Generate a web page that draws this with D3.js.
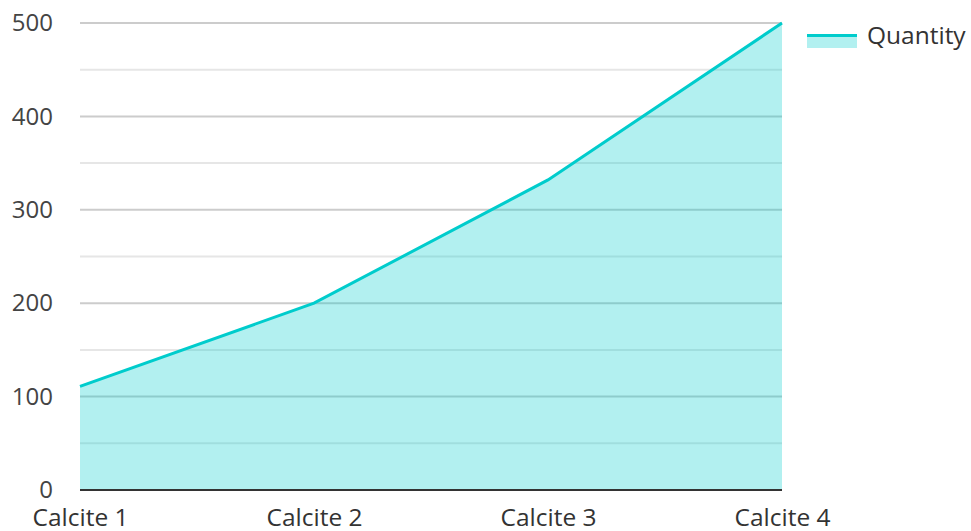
<!DOCTYPE html>
<html>
<head>
<meta charset="utf-8">
<script src="https://cdn.jsdelivr.net/npm/d3@7"></script>
<style>
  body { margin: 0; background: #fff; }
  text { font-family: "Open Sans", sans-serif; }
</style>
</head>
<body>
<svg></svg>
<script>

var categories = ["Calcite 1", "Calcite 2", "Calcite 3", "Calcite 4"];
var quantity = [111, 200, 332, 500];
var yTicks = [0, 100, 200, 300, 400, 500];
var seriesName = "Quantity";

var width = 971,
    height = 531;

var margin = {top: 23, right: 189, bottom: 41, left: 80};

var svg = d3.select("svg")
    .attr("width", width)
    .attr("height", height);

var x = d3.scalePoint()
    .domain(categories)
    .range([margin.left, width - margin.right]);

var y = d3.scaleLinear()
    .domain([0, 500])
    .range([height - margin.bottom, margin.top]);

// grid lines, minor every 50, major every 100
var minor = d3.range(50, 500, 100);
svg.append("g")
    .selectAll("line")
    .data(minor)
    .enter().append("line")
    .attr("x1", margin.left)
    .attr("x2", width - margin.right)
    .attr("y1", function(d) { return y(d); })
    .attr("y2", function(d) { return y(d); })
    .attr("stroke", "#e6e6e6")
    .attr("stroke-width", 2);

svg.append("g")
    .selectAll("line")
    .data(yTicks.slice(1))
    .enter().append("line")
    .attr("x1", margin.left)
    .attr("x2", width - margin.right)
    .attr("y1", function(d) { return y(d); })
    .attr("y2", function(d) { return y(d); })
    .attr("stroke", "#cccccc")
    .attr("stroke-width", 2);

var data = categories.map(function(c, i) { return {cat: c, val: quantity[i]}; });

var area = d3.area()
    .x(function(d) { return x(d.cat); })
    .y0(y(0))
    .y1(function(d) { return y(d.val); });

var line = d3.line()
    .x(function(d) { return x(d.cat); })
    .y(function(d) { return y(d.val); });

svg.append("path")
    .datum(data)
    .attr("d", area)
    .attr("fill", "#00cccc")
    .attr("fill-opacity", 0.3);

svg.append("path")
    .datum(data)
    .attr("d", line)
    .attr("fill", "none")
    .attr("stroke", "#00cccc")
    .attr("stroke-width", 3);

// y axis labels
var yAxis = d3.axisLeft(y).tickValues(yTicks).tickSize(0).tickPadding(27);
svg.append("g")
    .attr("transform", "translate(" + margin.left + ",0)")
    .call(yAxis)
    .call(function(g) { g.select(".domain").remove(); })
    .selectAll("text")
    .attr("font-size", 24)
    .attr("fill", "#444")
    .attr("font-family", "Open Sans, sans-serif");

// x axis
var xAxis = d3.axisBottom(x).tickSize(0).tickPadding(19);
var xg = svg.append("g")
    .attr("transform", "translate(0," + y(0) + ")")
    .call(xAxis);
xg.select(".domain").remove();
xg.append("line")
    .attr("x1", margin.left)
    .attr("x2", width - margin.right)
    .attr("stroke", "#333")
    .attr("stroke-width", 2);
xg.selectAll("text")
    .attr("font-size", 24.5)
    .attr("fill", "#333")
    .attr("font-family", "Open Sans, sans-serif");

// legend
var lg = svg.append("g").attr("transform", "translate(807,34)");
lg.append("rect")
    .attr("x", 0).attr("y", 0)
    .attr("width", 50).attr("height", 14)
    .attr("fill", "#00cccc").attr("fill-opacity", 0.3);
lg.append("line")
    .attr("x1", 0).attr("x2", 50)
    .attr("y1", 1.5).attr("y2", 1.5)
    .attr("stroke", "#00cccc").attr("stroke-width", 3);
lg.append("text")
    .attr("x", 60).attr("y", 10)
    .attr("font-size", 24.5)
    .attr("fill", "#333")
    .text(seriesName);

</script>
</body>
</html>
